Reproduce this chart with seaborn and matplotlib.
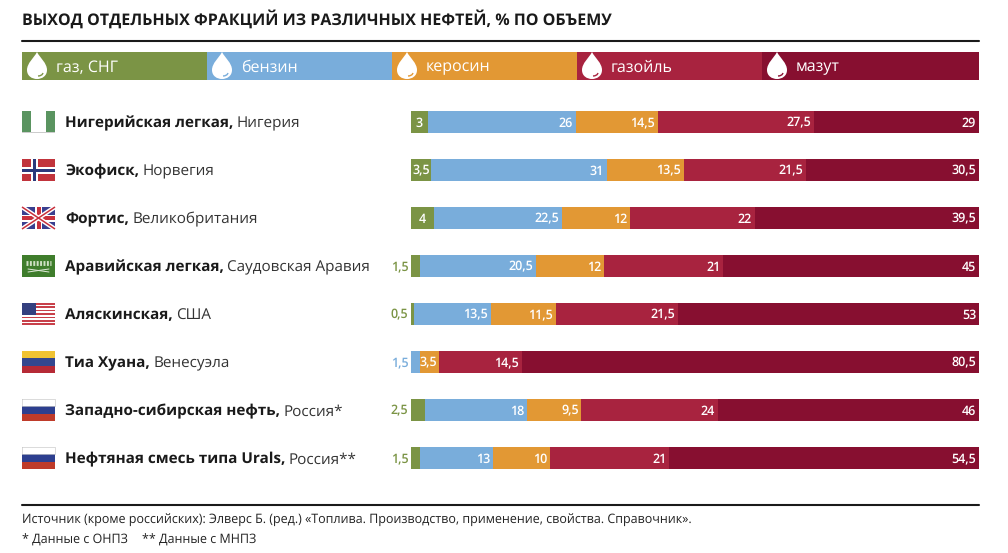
import matplotlib
matplotlib.use('Agg')
import matplotlib.pyplot as plt
import seaborn as sns
import pandas as pd
from matplotlib.patches import Rectangle, PathPatch
from matplotlib.path import Path

# data
crudes = ['Нигерийская легкая,', 'Экофиск,', 'Фортис,', 'Аравийская легкая,', 'Аляскинская,',
          'Тиа Хуана,', 'Западно-сибирская нефть,', 'Нефтяная смесь типа Urals,']
countries = ['Нигерия', 'Норвегия', 'Великобритания', 'Саудовская Аравия', 'США',
             'Венесуэла', 'Россия*', 'Россия**']
flags = ['ng', 'no', 'uk', 'sa', 'us', 've', 'ru', 'ru']
fractions = ['газ, СНГ', 'бензин', 'керосин', 'газойль', 'мазут']
gas = [3, 3.5, 4, 1.5, 0.5, 0, 2.5, 1.5]
benzin = [26, 31, 22.5, 20.5, 13.5, 1.5, 18, 13]
kerosin = [14.5, 13.5, 12, 12, 11.5, 3.5, 9.5, 10]
gasoil = [27.5, 21.5, 22, 21, 21.5, 14.5, 24, 21]
mazut = [29, 30.5, 39.5, 45, 53, 80.5, 46, 54.5]
colors = ['#7b9445', '#79addb', '#e29834', '#a8233f', '#870f30']

title = 'ВЫХОД ОТДЕЛЬНЫХ ФРАКЦИЙ ИЗ РАЗЛИЧНЫХ НЕФТЕЙ, % ПО ОБЪЕМУ'
note1 = 'Источник (кроме российских): Элверс Б. (ред.) «Топлива. Производство, применение, свойства. Справочник».'
note2 = '* Данные с ОНПЗ'
note3 = '** Данные с МНПЗ'

W, H = 1008, 553
sns.set_theme(style='white')
plt.rcParams['font.family'] = ['Open Sans', 'DejaVu Sans']
plt.rcParams['text.hinting'] = 'none'

df = pd.DataFrame({'crude': crudes, 'gas': gas, 'benzin': benzin, 'kerosin': kerosin,
                   'gasoil': gasoil, 'mazut': mazut})
series = ['gas', 'benzin', 'kerosin', 'gasoil', 'mazut']

fig = plt.figure(figsize=(W / 100, H / 100), dpi=100, facecolor='white')

# overlay in pixel coords for the furniture
bg = fig.add_axes([0, 0, 1, 1])
bg.set_xlim(0, W)
bg.set_ylim(H, 0)
bg.axis('off')

# bars
ax = fig.add_axes([411 / W, 1 - 482 / H, 568 / W, 384 / H])
left = [0] * len(df)
for s, c in zip(series, colors):
    sns.barplot(data=df, x=s, y='crude', left=left, color=c, width=0.46, saturation=1,
                linewidth=0, ax=ax, orient='h')
    for i, v in enumerate(df[s]):
        if v == 0:
            continue
        label = f'{v:g}'.replace('.', ',')
        right = left[i] + v
        if s == 'gas' and v >= 3:
            ax.annotate(label, (right - v / 2, i), xytext=(0, -1), textcoords='offset points', ha='center',
                        va='center', color='white', fontsize=9, fontweight='semibold')
        elif v < 3:
            ax.annotate(label, (left[i], i), xytext=(-2, -1), textcoords='offset points', ha='right',
                        va='center', color=c, fontsize=9, fontweight='semibold')
        else:
            ax.annotate(label, (right, i), xytext=(-2, -1), textcoords='offset points', ha='right',
                        va='center', color='white', fontsize=9, fontweight='semibold')
    left = [a + b for a, b in zip(left, df[s])]
ax.set_xlim(0, 100)
ax.set_ylim(7.5, -0.5)
ax.axis('off')
ax.patch.set_alpha(0)


def rect(x, y, w, h, c, **kw):
    bg.add_patch(Rectangle((x, y), w, h, facecolor=c, edgecolor='none', **kw))


def drop(x, y, band):
    # teardrop, tip at top, x = centre
    verts = [(x, y), (x + 3, y + 6), (x + 10, y + 11), (x + 10, y + 18), (x + 10, y + 24), (x + 5, y + 27),
             (x, y + 27), (x - 5, y + 27), (x - 10, y + 24), (x - 10, y + 18), (x - 10, y + 11), (x - 3, y + 6),
             (x, y)]
    codes = [Path.MOVETO] + [Path.CURVE4] * 12
    bg.add_patch(PathPatch(Path(verts, codes), facecolor='white', edgecolor='none'))
    glint = Path([(x + 1, y + 24), (x + 5, y + 24), (x + 6, y + 21)], [Path.MOVETO, Path.CURVE3, Path.CURVE3])
    bg.add_patch(PathPatch(glint, facecolor='none', edgecolor=band, linewidth=1))


def flag(kind, y):
    x, w, h = 22, 33, 22
    top = y - h / 2
    if kind == 'ng':
        rect(x, top, w, h, '#5a9460')
        rect(x + 9, top, 15, h, 'white')
        rect(x, top + h - 0.6, w, 0.6, '#cccccc')
    elif kind == 'no':
        rect(x, top, w, h, '#c1343c')
        rect(x + 9, top, 6.5, h, 'white')
        rect(x, top + 8, w, 6.5, 'white')
        rect(x + 10.5, top, 3.5, h, '#2b3a7c')
        rect(x, top + 9.5, w, 3.5, '#2b3a7c')
    elif kind == 'uk':
        rect(x, top, w, h, '#3a3f8f')
        bg.plot([x, x + w], [top, top + h], color='white', lw=3.2, solid_capstyle='butt')
        bg.plot([x, x + w], [top + h, top], color='white', lw=3.2, solid_capstyle='butt')
        bg.plot([x, x + w], [top, top + h], color='#c8303c', lw=1.1, solid_capstyle='butt')
        bg.plot([x, x + w], [top + h, top], color='#c8303c', lw=1.1, solid_capstyle='butt')
        rect(x + 13, top, 7, h, 'white')
        rect(x, top + 7.5, w, 7, 'white')
        rect(x + 14.5, top, 4, h, '#c8303c')
        rect(x, top + 9, w, 4, '#c8303c')
    elif kind == 'sa':
        rect(x, top, w, h, '#3f7d2c')
        bg.plot([x + 4, x + 29], [top + 8, top + 8], color='#cfe0c4', lw=3.5, ls=(0, (0.4, 0.3)))
        bg.plot([x + 6, x + 27], [top + 17, top + 14], color='#dfe9d8', lw=0.7)
        bg.plot([x + 6, x + 27], [top + 14, top + 17], color='#dfe9d8', lw=0.7)
    elif kind == 'us':
        rect(x, top, w, h, 'white')
        for k in range(0, 13, 2):
            rect(x, top + k * h / 13, w, h / 13, '#c8404a')
        rect(x, top, 14, h * 7 / 13, '#34407f')
    elif kind == 've':
        rect(x, top, w, h / 3, '#f0c333')
        rect(x, top + h / 3, w, h / 3, '#33478f')
        rect(x, top + 2 * h / 3, w, h / 3, '#b62a36')
    elif kind == 'ru':
        rect(x, top, w, h / 3, 'white')
        rect(x, top + h / 3, w, h / 3, '#2d3f8f')
        rect(x, top + 2 * h / 3, w, h / 3, '#bf3b2a')
        bg.plot([x, x + w, x + w, x, x], [top, top, top + h / 3, top + h / 3, top], color='#cccccc', lw=0.5)


# title and rules
bg.text(22, 19, title, fontsize=11.55, fontweight='bold', color='#1a1a1a', va='center', ha='left')
bg.plot([22, 979], [41, 41], color='#1a1a1a', lw=1.5)
bg.plot([22, 979], [505, 505], color='#1a1a1a', lw=1.5)

# legend band
edges = [22, 207, 392, 577, 762, 979]
for i, (name, c) in enumerate(zip(fractions, colors)):
    rect(edges[i], 52, edges[i + 1] - edges[i], 28, c)
    drop(edges[i] + 15, 52, c)
    bg.text(edges[i] + 34, 67.5, name, color='white', fontsize=11.5, va='center', ha='left')

# rows
fig.canvas.draw()
renderer = fig.canvas.get_renderer()
for i, (name, country, f) in enumerate(zip(crudes, countries, flags)):
    y = 122 + 48 * i
    flag(f, y)
    t = bg.text(65, y + 1.5, name, fontsize=11, fontweight='bold', color='#1a1a1a', va='center', ha='left')
    end = t.get_window_extent(renderer).x1
    bg.text(end + 3.5, y + 1.5, country, fontsize=11, color='#333333', va='center', ha='left')

# footnotes
bg.text(22, 520, note1, fontsize=9.0, color='#222222', va='center', ha='left')
bg.text(22, 540, note2, fontsize=9.0, color='#222222', va='center', ha='left')
bg.text(142, 540, note3, fontsize=9.0, color='#222222', va='center', ha='left')

bg.set_xlim(0, W)
bg.set_ylim(H, 0)
fig.savefig('out.png', dpi=100)
